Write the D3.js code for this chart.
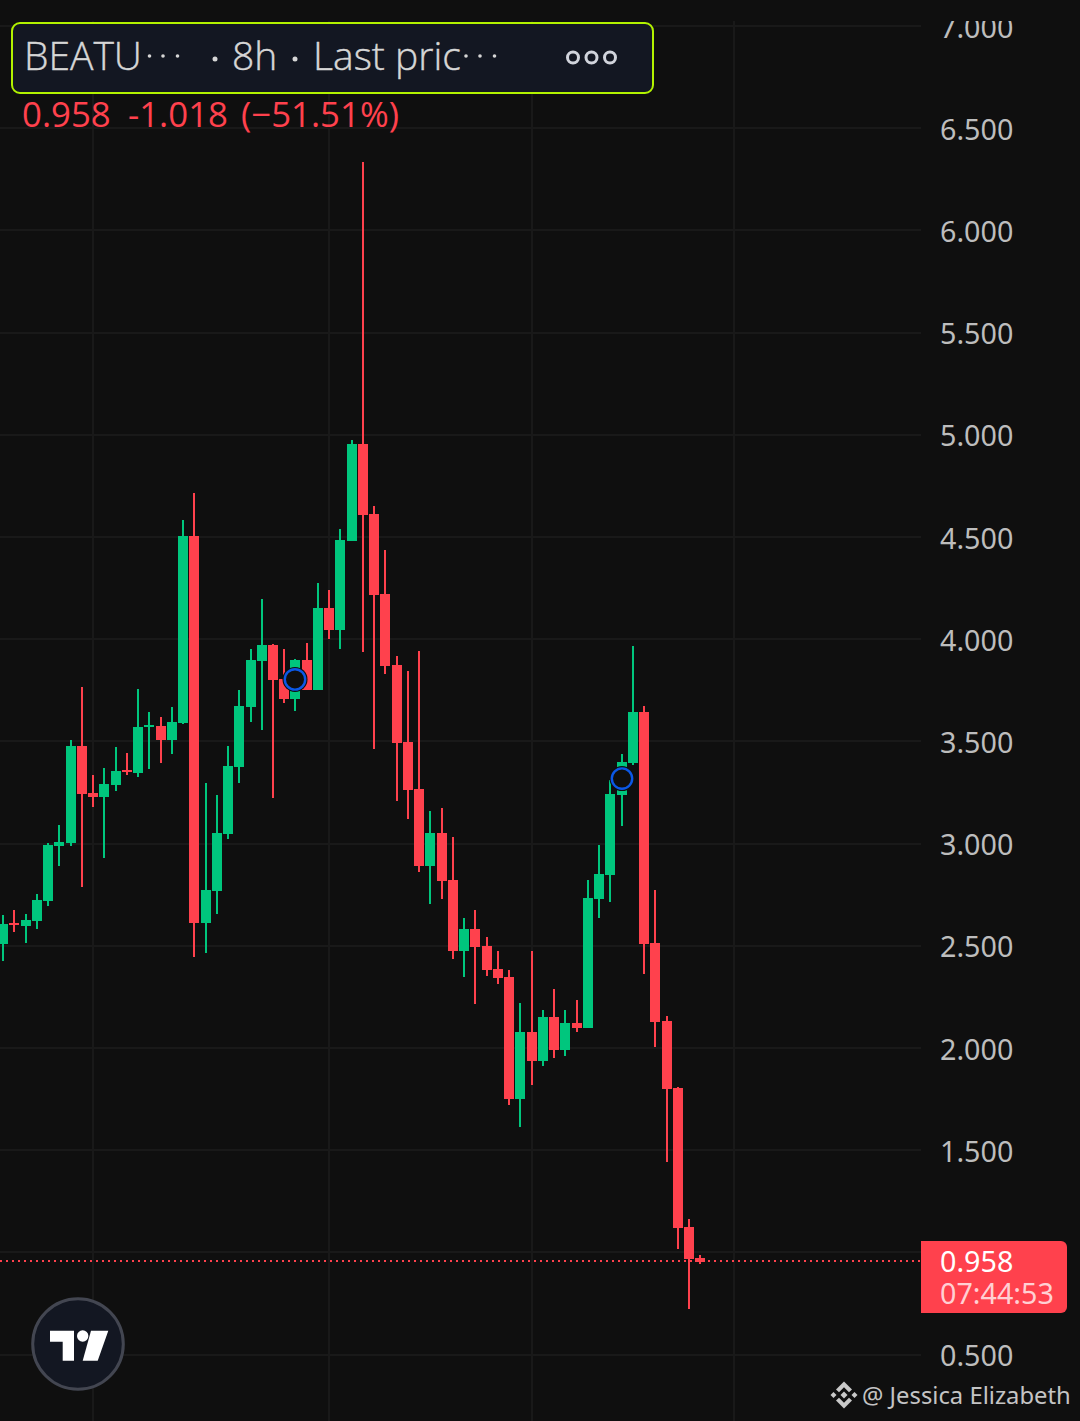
<!DOCTYPE html>
<html>
<head>
<meta charset="utf-8">
<script src="https://cdn.jsdelivr.net/npm/d3@7"></script>
<style>
  html, body { margin: 0; padding: 0; background: #0f0f0f; }
  svg { display: block; font-family: "Noto Sans", sans-serif; }
</style>
</head>
<body>
<div id="chart"></div>
<script>
// OHLC, one entry per 8h candle
const opens = [2.508,2.611,2.596,2.621,2.719,2.988,3.002,3.477,3.247,3.227,3.286,3.359,3.344,3.570,3.575,3.506,3.589,4.504,2.611,2.767,3.046,3.374,3.668,3.893,3.971,3.805,3.707,3.898,3.751,4.152,4.045,4.480,4.954,4.612,4.221,3.873,3.497,3.267,2.890,3.051,2.821,2.474,2.581,2.499,2.386,2.347,1.750,2.078,1.936,2.151,1.990,2.122,2.097,2.728,2.846,3.237,3.394,3.643,2.513,2.132,1.804,1.124,0.972];
const highs = [2.650,2.675,2.655,2.753,3.002,3.091,3.506,3.766,3.335,3.369,3.472,3.443,3.756,3.643,3.619,3.668,4.583,4.715,3.296,3.237,3.477,3.751,3.952,4.196,3.976,3.952,3.903,3.981,4.274,4.240,4.539,4.974,6.334,4.651,4.436,3.917,3.844,3.942,3.159,3.173,3.032,2.635,2.675,2.543,2.474,2.381,2.219,2.474,2.185,2.288,2.185,2.234,2.821,2.993,3.311,3.438,3.966,3.673,2.772,2.156,1.809,1.163,0.986];
const lows = [2.425,2.567,2.513,2.581,2.694,2.890,2.988,2.787,3.178,2.929,3.257,3.335,3.325,3.364,3.394,3.438,3.584,2.445,2.464,2.655,3.022,3.296,3.594,3.555,3.222,3.687,3.648,3.751,3.751,4.001,3.952,4.480,3.937,3.462,3.829,3.208,3.120,2.860,2.704,2.728,2.435,2.347,2.215,2.352,2.312,1.721,1.613,1.819,1.911,1.951,1.961,2.078,2.097,2.635,2.714,3.086,3.384,2.361,2.004,1.442,1.016,0.723,0.943];
const closes = [2.606,2.601,2.626,2.724,2.993,3.007,3.477,3.242,3.227,3.291,3.354,3.349,3.570,3.580,3.506,3.594,4.504,2.611,2.772,3.051,3.379,3.673,3.898,3.971,3.800,3.707,3.898,3.751,4.152,4.045,4.485,4.954,4.607,4.216,3.868,3.492,3.262,2.890,3.051,2.817,2.474,2.581,2.494,2.381,2.342,1.750,2.078,1.936,2.151,1.990,2.122,2.097,2.733,2.851,3.242,3.399,3.643,2.508,2.127,1.799,1.119,0.967,0.952];

const priceTicks = [0.5,1.5,2,2.5,3,3.5,4,4.5,5,5.5,6,6.5,7];
const gridPrices = [0.5,1,1.5,2,2.5,3,3.5,4,4.5,5,5.5,6,6.5,7];
const gridCandles = [8,29,47,65];
const markerCandles = [26,55];
const markerPrices = [3.803,3.318];
const lastPrice = 0.958;

const W = 1080, H = 1421, paneTop = 21, paneRight = 921;
const green = "#00c67d", red = "#ff414d", gridColor = "#191919";

const x = d3.scaleLinear().domain([0, 62]).range([3.12, 700.31]);
const y = d3.scaleLinear().domain([0.5, 7]).range([1354.5, 26]);
const px = d => Math.round(x(d));
const py = d => Math.round(y(d));

const svg = d3.select("#chart").append("svg")
  .attr("width", W).attr("height", H).attr("viewBox", `0 0 ${W} ${H}`);

svg.append("rect").attr("width", W).attr("height", H).attr("fill", "#0f0f0f");

svg.append("clipPath").attr("id", "pane").append("rect")
  .attr("x", 0).attr("y", paneTop).attr("width", W).attr("height", H - paneTop);

// grid
const grid = svg.append("g").attr("fill", "none").attr("stroke", gridColor).attr("stroke-width", 2);
grid.selectAll(".h").data(gridPrices).join("line").attr("class", "h")
  .attr("x1", 0).attr("x2", paneRight).attr("y1", py).attr("y2", py);
grid.selectAll(".v").data(gridCandles).join("line").attr("class", "v")
  .attr("x1", px).attr("x2", px).attr("y1", paneTop).attr("y2", H);

// price axis, the top label is cut by the pane like in the app
const axis = svg.append("g").attr("clip-path", "url(#pane)")
  .append("g").attr("transform", `translate(${paneRight},2)`)
  .call(d3.axisRight(y).tickValues(priceTicks).tickFormat(d3.format(".3f")).tickSize(0).tickPadding(19));
axis.select(".domain").remove();
axis.selectAll("text").attr("fill", "#bdbdbd").attr("font-size", 28.7).attr("font-family", '"Noto Sans", sans-serif');

// candles
const colorOf = i => closes[i] >= opens[i] ? green : red;
const candles = svg.append("g").selectAll("g").data(d3.range(opens.length)).join("g");
candles.append("rect")
  .attr("x", i => px(i) - 1).attr("width", 2)
  .attr("y", i => py(highs[i])).attr("height", i => py(lows[i]) - py(highs[i]))
  .attr("fill", colorOf);
candles.append("rect")
  .attr("x", i => px(i) - 5).attr("width", 10)
  .attr("y", i => py(Math.max(opens[i], closes[i])))
  .attr("height", i => Math.abs(py(opens[i]) - py(closes[i])))
  .attr("fill", colorOf);

// the round blue markers with their dark halo
const markers = svg.append("g").selectAll("g").data(markerCandles).join("g")
  .attr("transform", (d, i) => `translate(${px(d)},${y(markerPrices[i])})`);
markers.append("circle").attr("r", 12.5).attr("fill", "#0f0f0f");
markers.append("circle").attr("r", 10.2).attr("fill", "none")
  .attr("stroke", "#0b58e6").attr("stroke-width", 2.4);

// last price line and label
svg.append("line").attr("x1", 0).attr("x2", paneRight)
  .attr("y1", py(lastPrice)).attr("y2", py(lastPrice))
  .attr("stroke", red).attr("stroke-width", 2).attr("stroke-dasharray", "2 4");

svg.append("path")
  .attr("d", "M921,1241H1061a6,6 0 0 1 6,6V1307a6,6 0 0 1 -6,6H921Z")
  .attr("fill", red);
svg.append("text").attr("x", 940).attr("y", 1271.5).attr("font-size", 28.7).attr("fill", "#ffffff").text("0.958");
svg.append("text").attr("x", 940).attr("y", 1304).attr("font-size", 28.7).attr("fill", "#ffd0d3").text("07:44:53");

// header box
svg.append("rect").attr("x", 12).attr("y", 23).attr("width", 641).attr("height", 70).attr("rx", 8)
  .attr("fill", "#131722").attr("stroke", "#b2f200").attr("stroke-width", 2);
const headerFont = '"Open Sans", sans-serif';
const headerBits = [["BEATU", 24], ["8h", 232], ["Last pric", 313]];
svg.append("g").selectAll("text").data(headerBits).join("text")
  .attr("x", d => d[1]).attr("y", 70).attr("font-size", 39).attr("font-weight", 300)
  .attr("font-family", headerFont).attr("fill", "#d6d6d6")
  .attr("stroke", "#d6d6d6").attr("stroke-width", 0.4).text(d => d[0]);
const dotsAt = [149.5, 163, 177.5, 466, 480, 494.5];
svg.append("g").selectAll("circle").data(dotsAt).join("circle")
  .attr("cx", d => d).attr("cy", 56).attr("r", 1.8).attr("fill", "#d6d6d6");
svg.append("g").selectAll("circle").data([215, 295]).join("circle")
  .attr("cx", d => d).attr("cy", 59).attr("r", 2.5).attr("fill", "#d6d6d6");
svg.append("g").selectAll("circle").data([573, 591.5, 610]).join("circle")
  .attr("cx", d => d).attr("cy", 57.5).attr("r", 5.5).attr("fill", "none")
  .attr("stroke", "#d1d4dc").attr("stroke-width", 3);

const statusBits = [["0.958", 22], ["-1.018", 128], ["(−51.51%)", 241]];
svg.append("g").selectAll("text").data(statusBits).join("text")
  .attr("x", d => d[1]).attr("y", 126.5).attr("font-size", 34.8).attr("font-weight", 400)
  .attr("font-family", headerFont).attr("fill", red).text(d => d[0]);

// TradingView badge
const badge = svg.append("g").attr("transform", "translate(78,1344)");
badge.append("circle").attr("r", 45.3).attr("fill", "#131722").attr("stroke", "#434651").attr("stroke-width", 3);
badge.append("path").attr("d", "M-28,-13.3H-4V16.7H-15.3V-2.3H-28Z").attr("fill", "#fff");
badge.append("circle").attr("cx", 4.7).attr("cy", -8).attr("r", 5.7).attr("fill", "#fff");
badge.append("path").attr("d", "M13,-13.3H30.3L19.7,16.7H4.7Z").attr("fill", "#fff");

// watermark
const mark = svg.append("g").attr("transform", "translate(844,1395)").attr("fill", "#c9c9c9");
mark.selectAll("path").data([
  "M0,-13.5L8,-5.5L5,-2.8L0,-7.8L-5,-2.8L-8,-5.5Z",
  "M0,13.5L8,5.5L5,2.8L0,7.8L-5,2.8L-8,5.5Z",
  "M-13.5,0L-10.5,-3L-7.5,0L-10.5,3Z",
  "M13.5,0L10.5,-3L7.5,0L10.5,3Z",
  "M0,-3.5L3.5,0L0,3.5L-3.5,0Z"
]).join("path").attr("d", d => d);
svg.append("text").attr("x", 862).attr("y", 1404).attr("font-size", 23.8).attr("fill", "#c4c4c4").text("@ Jessica Elizabeth");
</script>
</body>
</html>
